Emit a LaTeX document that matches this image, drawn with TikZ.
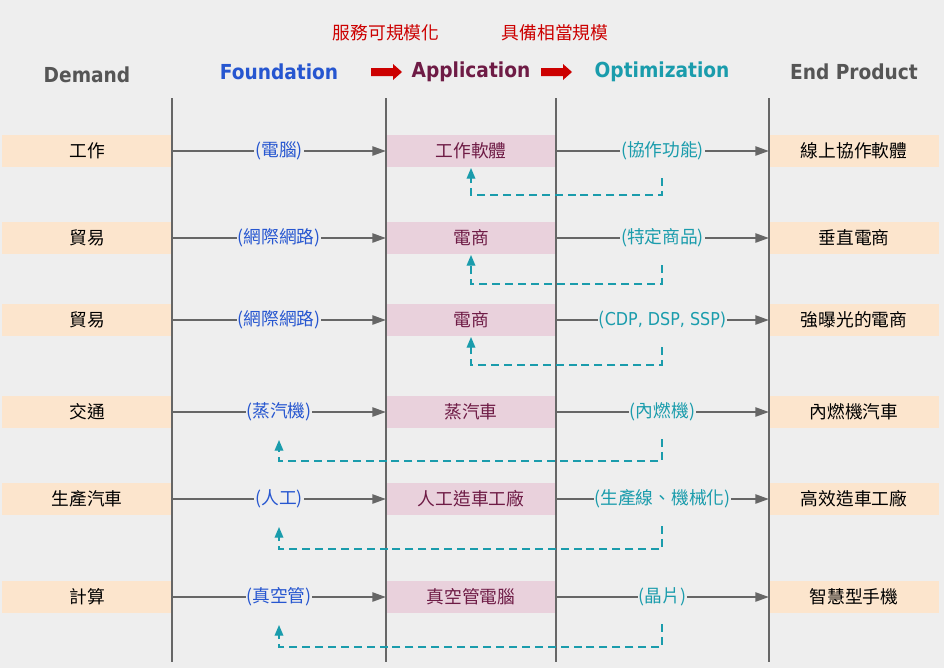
\documentclass[tikz,border=0pt]{standalone}
\usepackage{fontspec}
\setmainfont{DejaVu Sans}
\newfontfamily\cjk{Noto Sans CJK TC}
\newfontfamily\hdfont{DejaVu Sans Condensed}[BoldFont={DejaVu Sans Condensed Bold}]
\usetikzlibrary{arrows.meta}

\definecolor{bgc}{HTML}{EEEEEE}
\definecolor{peach}{HTML}{FCE5CD}
\definecolor{rose}{HTML}{E9D1DC}
\definecolor{appred}{HTML}{6E1B45}
\definecolor{fndblue}{HTML}{2656D0}
\definecolor{opteal}{HTML}{1A9CAC}
\definecolor{hdgray}{HTML}{555555}
\definecolor{notered}{HTML}{CC0000}
\definecolor{linegray}{HTML}{666666}

\begin{document}
\begin{tikzpicture}[
        x=0.75pt, y=-0.75pt,
        cell/.style={minimum width=127.5pt, minimum height=24.5pt, inner sep=0pt, font=\cjk\fontsize{13.3}{16}\selectfont},
        endbox/.style={cell, fill=peach, text=black},
        appbox/.style={cell, fill=rose, text=appred},
        hdr/.style={font=\hdfont\bfseries\fontsize{15.5}{18}\selectfont},
        note/.style={font=\cjk\fontsize{13.3}{16}\selectfont, text=notered},
        lbl/.style={fill=bgc, inner sep=0.6pt, font=\cjk\fontsize{13.3}{16}\selectfont},
        life/.style={draw=linegray, line width=1pt},
        msg/.style={draw=linegray, line width=1pt, -{Triangle[length=10pt,width=7pt]}},
        back/.style={draw=opteal, line width=1pt, dash pattern=on 6pt off 3.7pt, -{Triangle[length=8pt,width=6.5pt]}}
    ]
        \fill[bgc] (0,0) rectangle (944,668);
        \useasboundingbox (0,0) rectangle (944,668);

        % headers
        \node[hdr, text=hdgray] (hdem) at (87,75) {Demand};
        \node[hdr, text=fndblue] (hfnd) at (279,72) {Foundation};
        \node[hdr, text=appred] (happ) at (471,72) {Application};
        \node[hdr, text=opteal] (hopt) at (662,72) {Optimization};
        \node[hdr, text=hdgray] (hprd) at (854,72) {End Product};
        \node[note] (n1) at (386,33) {服務可規模化};
        \node[note] (n2) at (555,33) {具備相當規模};
        \fill[notered] (371,68) -- (393,68) -- (393,64) -- (402,72) -- (393,80) -- (393,76) -- (371,76) -- cycle;
        \fill[notered] (541,68) -- (563,68) -- (563,64) -- (572,72) -- (563,80) -- (563,76) -- (541,76) -- cycle;

        % rows
        \foreach \i/\y/\dem/\app/\prd/\tx/\tip in {
            1/151/工作/工作軟體/線上協作軟體/471/17,
            2/238/貿易/電商/垂直電商/471/17,
            3/320/貿易/電商/強曝光的電商/471/17,
            4/412/交通/蒸汽車/內燃機汽車/279/28,
            5/499/生產汽車/人工造車工廠/高效造車工廠/279/28,
            6/597/計算/真空管電腦/智慧型手機/279/28}{
            \node[endbox] (d\i) at (87,\y) {\dem};
            \node[appbox] (a\i) at (471,\y) {\app};
            \node[endbox] (p\i) at (854,\y) {\prd};
            \coordinate (s\i) at (662,\y+27);
            \coordinate (t\i) at (\tx,\y+\tip);
        }

        % lifelines
        \foreach \x in {172,386,556,769}
            \draw[life] (\x,98) -- (\x,662);

        \foreach \i/\fnd/\opt in {1/電腦/協作功能, 2/網際網路/特定商品, 3/網際網路/{\hdfont CDP, DSP, SSP},
                4/蒸汽機/內燃機, 5/人工/生產線、機械化, 6/真空管/晶片}{
            \draw[msg] (d\i.east) -- (a\i.west) node[lbl, midway, text=fndblue] (f\i) {(\fnd)};
            \draw[msg] (a\i.east) -- (p\i.west) node[lbl, midway, text=opteal] (o\i) {(\opt)};
        }

        \foreach \i/\low in {1/17, 2/19, 3/18, 4/22, 5/23, 6/23}
            \draw[back] (s\i) -- ++(0,\low) -| (t\i);
    \end{tikzpicture}
\end{document}
